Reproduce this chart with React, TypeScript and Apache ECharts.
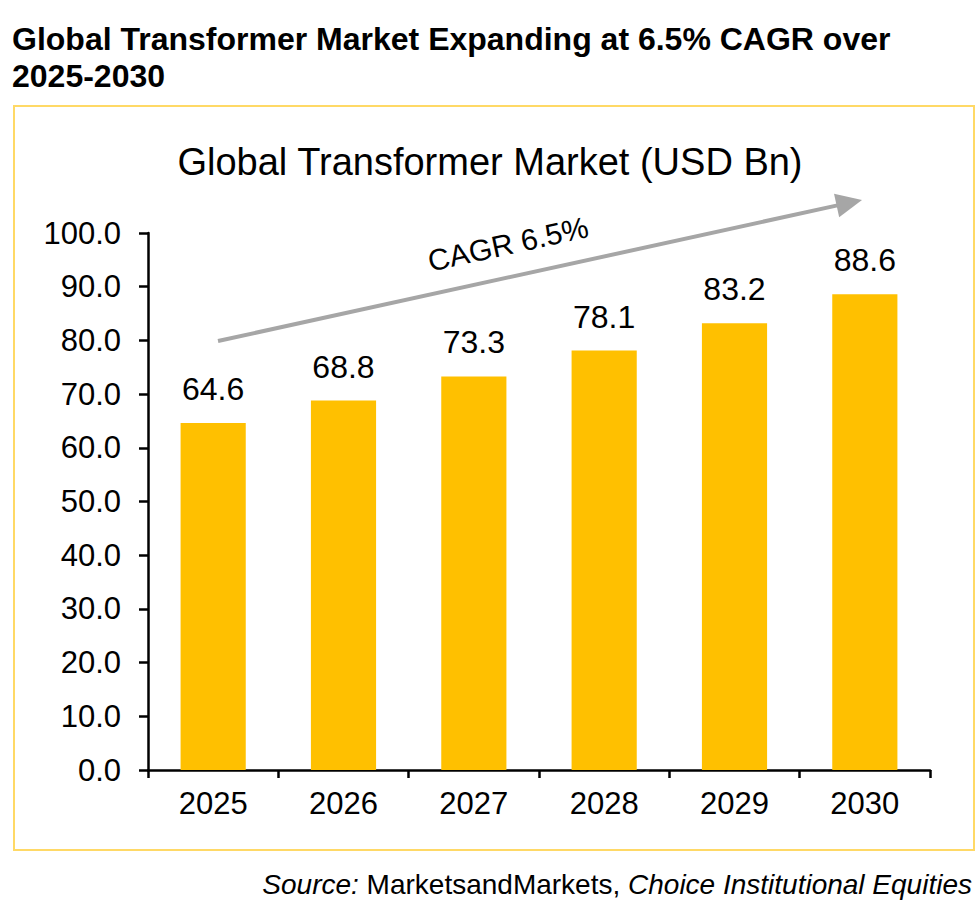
import React, { useEffect, useRef } from "react";
import * as echarts from "echarts";

const categories = ["2025", "2026", "2027", "2028", "2029", "2030"];
const values = [64.6, 68.8, 73.3, 78.1, 83.2, 88.6];
const yTicks = { min: 0, max: 100, interval: 10 };

const FONT = "'Liberation Sans', Arial, sans-serif";

export default function App() {
  const ref = useRef<HTMLDivElement>(null);
  useEffect(() => {
    if (!ref.current) return;
    const chart = echarts.init(ref.current, null, { renderer: "svg" });
    const ax1 = 218, ay1 = 341, ax2 = 838, ay2 = 205;
    const ang = Math.atan2(ay2 - ay1, ax2 - ax1);
    const hx = 862, hy = 200;
    const L = 26, W = 12;
    const bx = hx - L * Math.cos(ang), by = hy - L * Math.sin(ang);
    const px = -Math.sin(ang), py = Math.cos(ang);
    chart.setOption({
      animation: false,
      backgroundColor: "#ffffff",
      textStyle: { fontFamily: FONT },
      grid: { left: 148, right: 50, top: 233, bottom: 150, containLabel: false },
      xAxis: {
        type: "category",
        data: categories,
        axisLine: { lineStyle: { color: "#000", width: 2.5 } },
        axisTick: { show: true, length: 8, lineStyle: { color: "#000", width: 2.5 } },
        axisLabel: { color: "#000", fontSize: 31, margin: 18, fontFamily: FONT },
      },
      yAxis: {
        type: "value",
        min: yTicks.min,
        max: yTicks.max,
        interval: yTicks.interval,
        splitLine: { show: false },
        axisLine: { show: true, lineStyle: { color: "#000", width: 2.5 } },
        axisTick: { show: true, length: 9, lineStyle: { color: "#000", width: 2.5 } },
        axisLabel: {
          color: "#000",
          fontSize: 31,
          margin: 27,
          fontFamily: FONT,
          formatter: (v: number) => v.toFixed(1),
        },
      },
      series: [
        {
          type: "bar",
          data: values,
          barWidth: "50%",
          itemStyle: { color: "#FFC000" },
          label: {
            show: true,
            position: "top",
            distance: 18,
            color: "#000",
            fontSize: 32,
            fontFamily: FONT,
            formatter: (p: any) => p.value.toFixed(1),
          },
        },
      ],
      graphic: [
        {
          type: "rect",
          shape: { x: 14, y: 106, width: 960, height: 744 },
          style: { fill: "none", stroke: "#FFD966", lineWidth: 2 },
          silent: true,
        },
        {
          type: "text",
          x: 12,
          y: 20,
          style: {
            text: "Global Transformer Market Expanding at 6.5% CAGR over\n2025-2030",
            font: `bold 32px ${FONT}`,
            fill: "#000",
            lineHeight: 37,
          },
        },
        {
          type: "text",
          x: 490,
          y: 162,
          style: {
            text: "Global Transformer Market (USD Bn)",
            font: `38px ${FONT}`,
            fill: "#000",
            align: "center",
            verticalAlign: "middle",
          },
        },
        {
          type: "line",
          shape: { x1: ax1, y1: ay1, x2: bx + 2 * Math.cos(ang), y2: by + 2 * Math.sin(ang) },
          style: { stroke: "#A6A6A6", lineWidth: 4 },
        },
        {
          type: "polygon",
          shape: {
            points: [
              [hx, hy],
              [bx + px * W, by + py * W],
              [bx - px * W, by - py * W],
            ],
          },
          style: { fill: "#A6A6A6" },
        },
        {
          type: "text",
          x: 508,
          y: 244,
          rotation: -ang,
          style: {
            text: "CAGR 6.5%",
            font: `30px ${FONT}`,
            fill: "#000",
            align: "center",
            verticalAlign: "middle",
          },
        },
        {
          type: "text",
          x: 972,
          y: 884,
          style: {
            rich: {
              i: { font: `italic 28px ${FONT}`, fill: "#000" },
              n: { font: `28px ${FONT}`, fill: "#000" },
            },
            text: "{i|Source: }{n|MarketsandMarkets, }{i|Choice Institutional Equities}",
            align: "right",
            verticalAlign: "middle",
          },
        },
      ],
    });
    return () => chart.dispose();
  }, []);
  return (
    <div
      ref={ref}
      style={{ position: "fixed", left: 0, top: 0, width: 980, height: 920, background: "#fff" }}
    />
  );
}
